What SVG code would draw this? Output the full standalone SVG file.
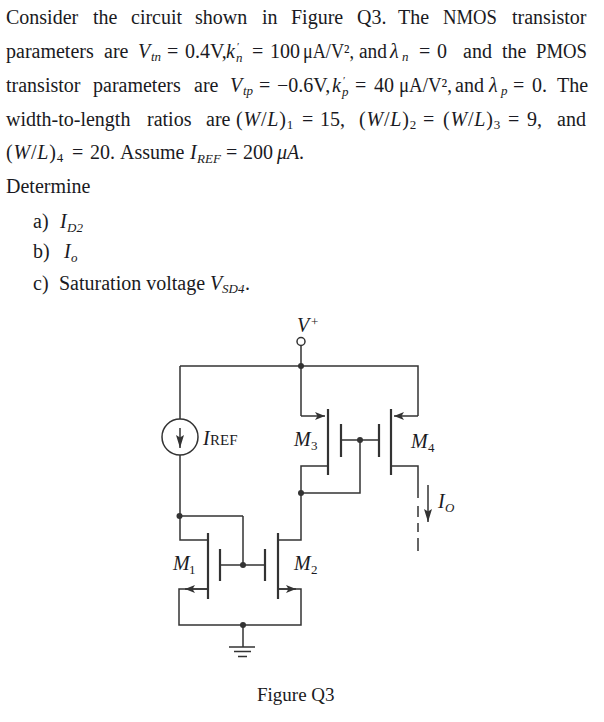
<svg xmlns="http://www.w3.org/2000/svg" width="604" height="722" viewBox="0 0 604 722">
<style>
text{font-family:"Liberation Serif",serif;font-size:20px;fill:#1a1a22}
.m{font-style:italic}
text.s{font-size:13px}
tspan.s{font-size:13px}
text.si{font-size:13px;font-style:italic}
text.p{font-size:11px}
text.r{font-size:15px}
text.f{font-size:19px}
.w{letter-spacing:.8px}
.l{fill:none;stroke:#333;stroke-width:1.5}
.b{fill:none;stroke:#333;stroke-width:2.2}
.d{fill:#333}
</style>
<defs><marker id="a" markerWidth="11" markerHeight="8" refX="10" refY="4" orient="auto" markerUnits="userSpaceOnUse"><path d="M0 0L10 4L0 8L2.500 4Z" fill="#333"/></marker>
<marker id="t" markerWidth="14" markerHeight="8" refX="13" refY="4" orient="auto" markerUnits="userSpaceOnUse"><path d="M0 0L13 4L0 8L2.500 4Z" fill="#333"/></marker></defs>
<rect width="604" height="722" fill="#fff"/>
<g id="text">
<text x="6" y="24">Consider</text><text x="93" y="24">the</text><text x="131" y="24">circuit</text><text x="195" y="24">shown</text><text x="262" y="24">in</text><text x="291" y="24">Figure</text><text x="357" y="24">Q3.</text><text x="398" y="24">The</text><text x="443" y="24" textLength="54" lengthAdjust="spacingAndGlyphs">NMOS</text><text x="512" y="24">transistor</text>

<text x="6" y="58">parameters</text><text x="104" y="58">are</text>
<text x="138" y="58" class="m">V</text><text x="151" y="61" class="si">tn</text><text x="167" y="58">=</text><text x="185" y="58">0.4V,</text><text x="226" y="58" class="m">k</text><text x="236" y="62" class="si">n</text><text x="237" y="50" class="p">′</text><text x="252" y="58">=</text><text x="270" y="58">100</text><text x="303" y="58" textLength="51" lengthAdjust="spacingAndGlyphs">μA/V²,</text><text x="359" y="58" textLength="28" lengthAdjust="spacingAndGlyphs">and</text><text x="390" y="58" class="m">λ</text><text x="402" y="61" class="si">n</text><text x="419" y="58">=</text><text x="437" y="58">0</text><text x="463" y="58">and</text><text x="502" y="58">the</text><text x="536" y="58" textLength="51" lengthAdjust="spacingAndGlyphs">PMOS</text>

<text x="6" y="92">transistor</text><text x="93" y="92">parameters</text><text x="194" y="92">are</text>
<text x="230" y="92" class="m">V</text><text x="243" y="95" class="si">tp</text><text x="259" y="92">=</text><text x="277" y="92">−0.6V,</text><text x="332" y="92" class="m">k</text><text x="342" y="96" class="si">p</text><text x="343" y="84" class="p">′</text><text x="355" y="92">=</text><text x="374" y="92">40</text><text x="399" y="92" textLength="53" lengthAdjust="spacingAndGlyphs">μA/V²,</text><text x="455" y="92" textLength="29" lengthAdjust="spacingAndGlyphs">and</text><text x="489" y="92" class="m">λ</text><text x="501" y="95" class="si">p</text><text x="513" y="92">=</text><text x="532" y="92">0.</text><text x="557" y="92">The</text>

<text x="6" y="126">width-to-length</text><text x="147" y="126">ratios</text><text x="206" y="126">are</text>
<text x="236" y="126" class="w">(<tspan class="m">W</tspan>/<tspan class="m">L</tspan>)<tspan class="s" dy="3">1</tspan></text><text x="302" y="126">=</text><text x="320" y="126">15,</text>
<text x="359" y="126" class="w">(<tspan class="m">W</tspan>/<tspan class="m">L</tspan>)<tspan class="s" dy="3">2</tspan></text><text x="423" y="126">=</text><text x="443" y="126" class="w">(<tspan class="m">W</tspan>/<tspan class="m">L</tspan>)<tspan class="s" dy="3">3</tspan></text><text x="508" y="126">=</text><text x="527" y="126">9,</text><text x="557" y="126">and</text>

<text x="6" y="159" class="w">(<tspan class="m">W</tspan>/<tspan class="m">L</tspan>)<tspan class="s" dy="3">4</tspan></text><text x="72" y="159">=</text><text x="90" y="159">20.</text><text x="120" y="159">Assume</text><text x="190" y="159" class="m">I</text><text x="197" y="163" class="si">REF</text><text x="226" y="159">=</text><text x="243" y="159">200</text><text x="277" y="159" class="m">μA</text><text x="299" y="159">.</text>

<text x="6" y="193">Determine</text>
<text x="33" y="228">a)</text><text x="60" y="228" class="m">I</text><text x="67" y="232" class="si">D2</text>
<text x="33" y="258">b)</text><text x="64" y="258" class="m">I</text><text x="71" y="262" class="si">o</text>
<text x="33" y="290">c)</text><text x="59" y="290">Saturation voltage</text><text x="210" y="290" class="m">V</text><text x="222" y="293" class="si">SD4</text><text x="245" y="290">.</text>
<text x="257" y="701" class="f">Figure Q3</text>
</g>
<g id="connectors">
<path class="l" d="M301 345.500V366M180 366H418V416M180 366V419M180 455V540H208M301 366V416"/>
<path class="l" d="M328 466H301V540H278M301 493H360V440M341 440H379M220 565H265M243 516V565M179.500 516H243M208 589H179V625H301V589H278M243 625V647M391 466H418V498"/>
<path class="l" d="M418 506V517M418 523V532M418 538V551"/>
<path class="l" d="M301 416H325" marker-end="url(#a)"/>
<path class="l" d="M418 416H394" marker-end="url(#a)"/>
<path class="l" d="M208 589H185" marker-end="url(#a)"/>
<path class="l" d="M278 589H296" marker-end="url(#a)"/>
<path class="l" d="M428 485V522" marker-end="url(#t)"/>
<path class="l" d="M180 428V448" marker-end="url(#t)"/>
<g class="d"><circle cx="301" cy="366" r="3"/><circle cx="360" cy="440" r="3"/><circle cx="301" cy="493" r="3"/><circle cx="179.500" cy="516" r="3"/><circle cx="243" cy="565" r="3"/><circle cx="243" cy="625" r="3"/></g>
</g>
<g id="vplus"><circle cx="301" cy="341.500" r="4" fill="#fff" stroke="#333" stroke-width="1.500"/><text x="297" y="332" class="m">V</text><text x="311" y="326" class="s">+</text></g>
<g id="iref"><circle cx="180" cy="437" r="18" fill="none" stroke="#333" stroke-width="1.500"/><text x="203" y="445" class="m">I</text><text x="210" y="445" class="r">REF</text></g>
<g id="m3"><path class="b" d="M328 409V475M341 424V457"/><text x="294" y="446" class="m">M</text><text x="311" y="450" class="s">3</text></g>
<g id="m4"><path class="b" d="M391 409V475M379 424V457"/><text x="411" y="448" class="m">M</text><text x="428" y="452" class="s">4</text></g>
<g id="m1"><path class="b" d="M208 533V599M220 549V581"/><text x="173" y="570" class="m">M</text><text x="189" y="574" class="s">1</text></g>
<g id="m2"><path class="b" d="M278 533V599M265 549V581"/><text x="294" y="570" class="m">M</text><text x="311" y="574" class="s">2</text></g>
<g id="ground"><path class="l" d="M229 647H255M234 651.500H251M238 656.500H247"/></g>
<g id="io"><text x="438" y="508" class="m">I</text><text x="445" y="512" class="si">O</text></g>
</svg>
